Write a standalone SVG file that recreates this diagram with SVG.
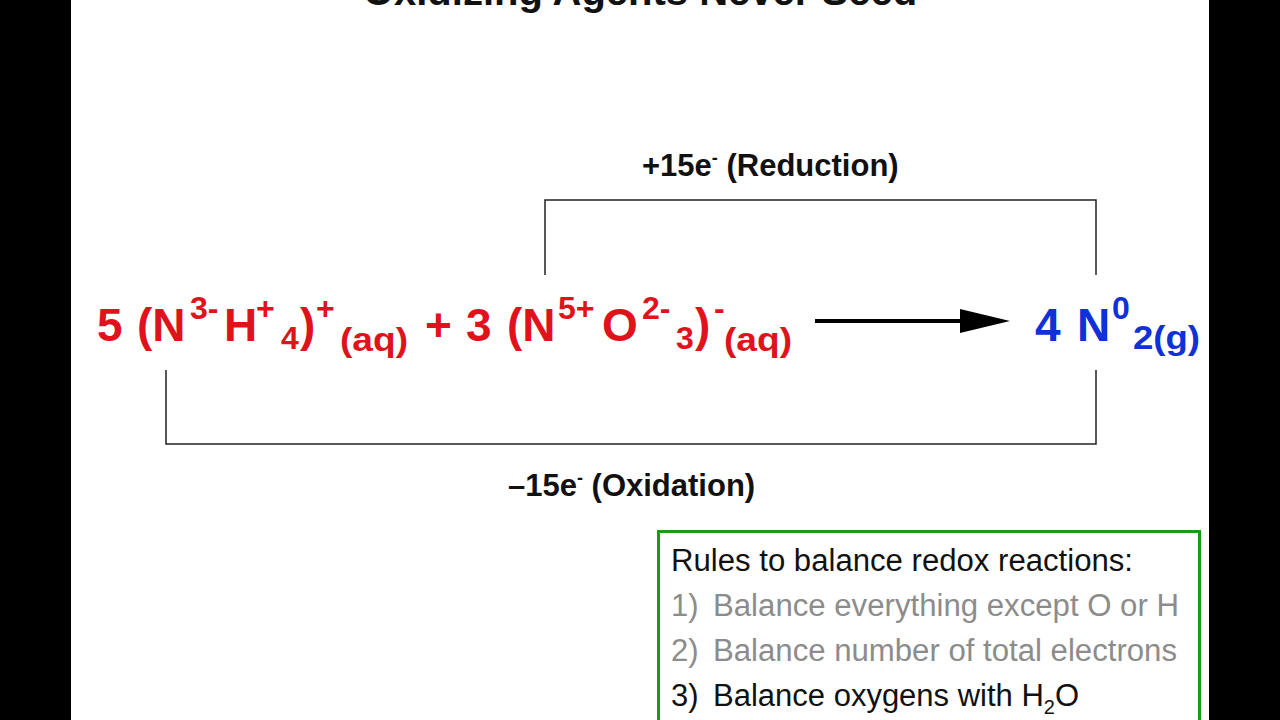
<svg xmlns="http://www.w3.org/2000/svg" width="1280" height="720" viewBox="0 0 1280 720">
<style>
.b{font-family:"Liberation Sans",Arial,sans-serif;font-weight:bold}
.r{fill:#e0121b}
.bl{fill:#1030d8}
.big{font-size:46px}
.sup{font-size:32px}
.sub{font-size:34px}
.lab{font-size:31px;fill:#111}
.rule{font-family:"Liberation Sans",Arial,sans-serif;font-size:31px}
.line{fill:none;stroke:#222;stroke-width:1.5}
</style>
<rect width="1280" height="720" fill="#fff"/>
<rect x="0" y="0" width="71" height="720" fill="#000"/>
<rect x="1209" y="0" width="71" height="720" fill="#000"/>
<text class="b" x="640" y="5" font-size="40" text-anchor="middle" fill="#111">Oxidizing Agents Never Seed</text>
<g id="reactants" class="b r">
<text class="big" x="97" y="341">5</text>
<text class="big" x="137" y="341">(N</text>
<text class="sup" x="190" y="319">3-</text>
<text class="big" x="224" y="341">H</text>
<text class="sup" x="256" y="319">+</text>
<text class="sup" x="281" y="349">4</text>
<text class="big" x="300" y="341">)</text>
<text class="sup" x="316" y="319">+</text>
<text class="sub" x="340" y="351" textLength="68" lengthAdjust="spacingAndGlyphs">(aq)</text>
<text class="big" x="425" y="341">+</text>
<text class="big" x="466" y="341">3</text>
<text class="big" x="507" y="341">(N</text>
<text class="sup" x="558" y="319">5+</text>
<text class="big" x="602" y="341">O</text>
<text class="sup" x="642" y="319">2-</text>
<text class="sup" x="676" y="349">3</text>
<text class="big" x="695" y="341">)</text>
<text class="sup" x="714" y="319">-</text>
<text class="sub" x="724" y="351" textLength="68" lengthAdjust="spacingAndGlyphs">(aq)</text>
</g>
<g id="product" class="b bl">
<text class="big" x="1035" y="341">4</text>
<text class="big" x="1077" y="341">N</text>
<text class="sup" x="1112" y="319">0</text>
<text class="sub" x="1133" y="349" textLength="67" lengthAdjust="spacingAndGlyphs">2(g)</text>
</g>
<g id="connectors">
<line x1="815" y1="321" x2="1000" y2="321" stroke="#000" stroke-width="4"/>
<path d="M960,309 L1010,321 L960,333 Z" fill="#000"/>
<polyline class="line" points="545,275 545,200 1096,200 1096,275"/>
<polyline class="line" points="166,370 166,444 1096,444 1096,370"/>
</g>
<g id="labels" class="b">
<text class="lab" x="642" y="176">+15e<tspan font-size="18" dy="-12">-</tspan><tspan dy="12"> (Reduction)</tspan></text>
<text class="lab" x="508" y="496">–15e<tspan font-size="18" dy="-12">-</tspan><tspan dy="12"> (Oxidation)</tspan></text>
</g>
<g id="rules">
<rect x="658.5" y="531.5" width="541" height="200" fill="#fff" stroke="#1a9a1a" stroke-width="3"/>
<text class="rule" x="671" y="571" fill="#111" textLength="462" lengthAdjust="spacingAndGlyphs">Rules to balance redox reactions:</text>
<text class="rule" x="671" y="616" fill="#8c8c8c">1)</text>
<text class="rule" x="713" y="616" fill="#8c8c8c" textLength="466" lengthAdjust="spacingAndGlyphs">Balance everything except O or H</text>
<text class="rule" x="671" y="661" fill="#8c8c8c">2)</text>
<text class="rule" x="713" y="661" fill="#8c8c8c" textLength="464" lengthAdjust="spacingAndGlyphs">Balance number of total electrons</text>
<text class="rule" x="671" y="706" fill="#111">3)</text>
<text class="rule" x="713" y="706" fill="#111">Balance oxygens with H<tspan font-size="20" dy="8">2</tspan><tspan dy="-8">O</tspan></text>
</g>
</svg>
